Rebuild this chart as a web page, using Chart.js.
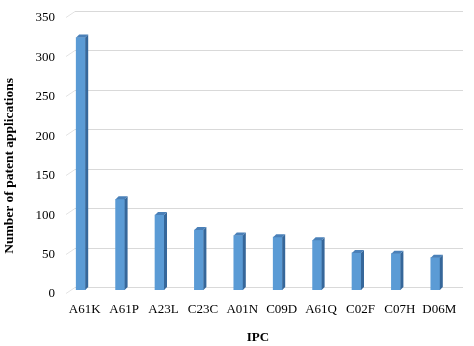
<!DOCTYPE html>
<html>
<head>
<meta charset="utf-8">
<script src="https://cdn.jsdelivr.net/npm/chart.js@4/dist/chart.umd.min.js"></script>
<style>
  html, body { margin: 0; padding: 0; background: #ffffff; }
  #wrap { width: 474px; height: 346px; }
</style>
</head>
<body>
<div id="wrap"><canvas id="chart" width="474" height="346"></canvas></div>
<script>
// IPC classes and patent application counts
const ipcCodes = ['A61K', 'A61P', 'A23L', 'C23C', 'A01N', 'C09D', 'A61Q', 'C02F', 'C07H', 'D06M'];
const applications = [320, 115, 95, 76, 69, 67, 63, 47, 46, 41];
const yTicks = [0, 50, 100, 150, 200, 250, 300, 350];
const yTitle = 'Number of patent applications';

const serif = "'Liberation Serif', 'Times New Roman', serif";

// Back-wall gridlines with a short slanted segment on the side wall
const wallGrid = {
  id: 'wallGrid',
  beforeDatasetsDraw(chart) {
    const { ctx, chartArea } = chart;
    const y = chart.scales.y;
    ctx.save();
    ctx.lineWidth = 1;
    yTicks.forEach(v => {
      const py = Math.round(y.getPixelForValue(v)) - 3 + 0.5;
      ctx.strokeStyle = '#e3e3e3';
      ctx.beginPath();
      ctx.moveTo(chartArea.left + 5, py + 6);
      ctx.lineTo(chartArea.left + 14, py);
      ctx.stroke();
      ctx.strokeStyle = '#d9d9d9';
      ctx.beginPath();
      ctx.moveTo(chartArea.left + 14, py);
      ctx.lineTo(chartArea.right + 8, py);
      ctx.stroke();
    });
    ctx.restore();
  }
};

// Side and top faces that give the columns their depth
const columnDepth = {
  id: 'columnDepth',
  afterDatasetsDraw(chart) {
    const { ctx } = chart;
    const dx = 3, dy = 3;
    chart.getDatasetMeta(0).data.forEach(bar => {
      const { x, y, base, width } = bar.getProps(['x', 'y', 'base', 'width'], true);
      const l = x - width / 2, r = x + width / 2;
      ctx.save();
      ctx.fillStyle = '#36679a';
      ctx.beginPath();
      ctx.moveTo(r, y);
      ctx.lineTo(r + dx, y - dy);
      ctx.lineTo(r + dx, base - dy);
      ctx.lineTo(r, base);
      ctx.closePath();
      ctx.fill();
      ctx.fillStyle = '#4a80b8';
      ctx.beginPath();
      ctx.moveTo(l, y);
      ctx.lineTo(l + dx, y - dy);
      ctx.lineTo(r + dx, y - dy);
      ctx.lineTo(r, y);
      ctx.closePath();
      ctx.fill();
      ctx.restore();
    });
  }
};

// Vertical axis title, centred on the full plot height including the floor
const valueAxisTitle = {
  id: 'valueAxisTitle',
  afterDraw(chart) {
    const { ctx, chartArea } = chart;
    ctx.save();
    ctx.translate(10, (chartArea.top + chartArea.bottom) / 2 + 14);
    ctx.rotate(-Math.PI / 2);
    ctx.fillStyle = '#000000';
    ctx.font = "bold 13.5px " + serif;
    ctx.textAlign = 'center';
    ctx.textBaseline = 'middle';
    ctx.fillText(yTitle, 0, 0);
    ctx.restore();
  }
};

new Chart(document.getElementById('chart'), {
  type: 'bar',
  data: {
    labels: ipcCodes,
    datasets: [{
      data: applications,
      backgroundColor: '#5b9bd5',
      borderWidth: 0,
      barThickness: 9
    }]
  },
  options: {
    responsive: false,
    animation: false,
    events: [],
    layout: { padding: { top: 8, right: 19, bottom: 0, left: 0 } },
    plugins: { legend: { display: false }, tooltip: { enabled: false } },
    scales: {
      x: {
        grid: { display: false, drawTicks: false },
        border: { display: false },
        ticks: {
          color: '#000000',
          font: { family: serif, size: 13 },
          padding: 12,
          labelOffset: 4,
          maxRotation: 0,
          autoSkip: false
        },
        title: {
          display: true,
          text: 'IPC',
          color: '#000000',
          font: { family: serif, size: 13, weight: 'bold' },
          padding: { top: 0, bottom: 1 }
        },
        afterFit(scale) { scale.height = 56; }
      },
      y: {
        min: 0,
        max: 350,
        grid: { display: false, drawTicks: false },
        border: { display: false },
        afterBuildTicks(scale) { scale.ticks = yTicks.map(v => ({ value: v })); },
        ticks: {
          color: '#000000',
          font: { family: serif, size: 13 },
          padding: 6,
          labelOffset: 4
        },
        title: { display: false },
        afterFit(scale) { scale.width = 61; }
      }
    }
  },
  plugins: [wallGrid, columnDepth, valueAxisTitle]
});
</script>
</body>
</html>
